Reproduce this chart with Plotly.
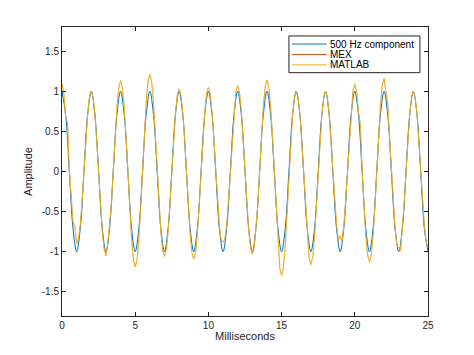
import plotly.graph_objects as go

# Blue 500 Hz component sampled every 0.25 ms (0 .. 25 ms)
comp_t = [i * 0.25 for i in range(101)]
comp_v = [
    1.0, 0.707, 0.0, -0.707, -1.0, -0.707, 0.0, 0.707,
    1.0, 0.707, 0.0, -0.707, -1.0, -0.707, 0.0, 0.707,
    1.0, 0.707, 0.0, -0.707, -1.0, -0.707, 0.0, 0.707,
    1.0, 0.707, 0.0, -0.707, -1.0, -0.707, 0.0, 0.707,
    1.0, 0.707, 0.0, -0.707, -1.0, -0.707, 0.0, 0.707,
    1.0, 0.707, 0.0, -0.707, -1.0, -0.707, 0.0, 0.707,
    1.0, 0.707, 0.0, -0.707, -1.0, -0.707, 0.0, 0.707,
    1.0, 0.707, 0.0, -0.707, -1.0, -0.707, 0.0, 0.707,
    1.0, 0.707, 0.0, -0.707, -1.0, -0.707, 0.0, 0.707,
    1.0, 0.707, 0.0, -0.707, -1.0, -0.707, 0.0, 0.707,
    1.0, 0.707, 0.0, -0.707, -1.0, -0.707, 0.0, 0.707,
    1.0, 0.707, 0.0, -0.707, -1.0, -0.707, 0.0, 0.707,
    1.0, 0.707, 0.0, -0.707, -1.0,
]

# Filtered output (MEX and MATLAB give identical results), every 0.125 ms
filt_t = [i * 0.125 for i in range(201)]
filt_v = [
    # 0 -> 1
    1.09, 0.98, 0.66, 0.62, 0.02, -0.36, -0.62, -0.68,
    # 1 -> 2
    -0.90, -0.84, -0.66, -0.36, 0.0, 0.38, 0.71, 0.92,
    # 2 -> 3
    1.00, 0.92, 0.70, 0.37, -0.01, -0.40, -0.74, -0.97,
    # 3 -> 4
    -1.05, -0.90, -0.66, -0.40, 0.0, 0.42, 0.79, 1.04,
    # 4 -> 5
    1.13, 1.04, 0.80, 0.43, 0.0, -0.45, -0.84, -1.10,
    # 5 -> 6
    -1.19, -1.10, -0.84, -0.45, 0.0, 0.46, 0.86, 1.12,
    # 6 -> 7
    1.21, 1.12, 0.86, 0.46, 0.0, -0.41, -0.75, -0.98,
    # 7 -> 8
    -1.06, -0.98, -0.75, -0.40, 0.0, 0.39, 0.73, 0.95,
    # 8 -> 9
    1.03, 0.95, 0.73, 0.40, 0.0, -0.42, -0.77, -1.01,
    # 9 -> 10
    -1.09, -1.01, -0.77, -0.41, 0.0, 0.40, 0.74, 0.97,
    # 10 -> 11
    1.05, 0.97, 0.74, 0.40, 0.0, -0.37, -0.68, -0.86,
    # 11 -> 12
    -0.88, -0.84, -0.66, -0.36, 0.0, 0.41, 0.76, 0.99,
    # 12 -> 13
    1.07, 0.99, 0.76, 0.40, 0.0, -0.39, -0.73, -0.95,
    # 13 -> 14
    -1.03, -0.95, -0.73, -0.42, 0.0, 0.44, 0.81, 1.05,
    # 14 -> 15
    1.14, 1.05, 0.81, 0.44, 0.0, -0.50, -0.92, -1.20,
    # 15 -> 16
    -1.30, -1.20, -0.92, -0.50, 0.0, 0.38, 0.71, 0.92,
    # 16 -> 17
    1.00, 0.92, 0.71, 0.38, 0.0, -0.44, -0.82, -1.07,
    # 17 -> 18
    -1.16, -1.07, -0.82, -0.44, 0.0, 0.38, 0.71, 0.92,
    # 18 -> 19
    1.00, 0.92, 0.71, 0.38, 0.0, -0.36, -0.66, -0.86,
    # 19 -> 20
    -0.80, -0.87, -0.68, -0.36, 0.0, 0.42, 0.78, 1.01,
    # 20 -> 21
    1.09, 1.00, 0.74, 0.60, 0.02, -0.43, -0.80, -1.04,
    # 21 -> 22
    -1.13, -1.04, -0.80, -0.43, 0.0, 0.45, 0.82, 1.07,
    # 22 -> 23
    1.16, 1.00, 0.84, 0.42, 0.0, -0.38, -0.70, -0.93,
    # 23 -> 24
    -0.95, -0.99, -0.72, -0.38, 0.0, 0.38, 0.71, 0.92,
    # 24 -> 25
    1.00, 0.92, 0.71, 0.37, 0.0, -0.36, -0.67, -0.88,
    -0.95,
]

x_ticks = [0, 5, 10, 15, 20, 25]
y_ticks = [-1.5, -1, -0.5, 0, 0.5, 1, 1.5]
y_tick_text = ["-1.5", "-1", "-0.5", "0", "0.5", "1", "1.5"]

series_names = ["500 Hz component", "MEX", "MATLAB"]
series_colors = ["#0072BD", "#D95319", "#EDB120"]

fig = go.Figure()
fig.add_trace(go.Scatter(x=comp_t, y=comp_v, mode="lines", name=series_names[0], showlegend=False,
                         line=dict(color=series_colors[0], width=1.0, shape="spline", smoothing=1.0)))
fig.add_trace(go.Scatter(x=filt_t, y=filt_v, mode="lines", name=series_names[1], showlegend=False,
                         line=dict(color=series_colors[1], width=0.3)))
fig.add_trace(go.Scatter(x=filt_t, y=filt_v, mode="lines", name=series_names[2], showlegend=False,
                         line=dict(color=series_colors[2], width=1.0)))

axis_color = "#262626"
font_family = "Liberation Sans, Arial, sans-serif"

# Compact MATLAB-style legend (box, line samples, labels) in paper coordinates
leg_x0, leg_x1, leg_y0, leg_y1 = 0.620, 0.978, 0.842, 0.969
row_y = [0.941, 0.905, 0.869]
fig.add_shape(type="rect", xref="paper", yref="paper", x0=leg_x0, x1=leg_x1, y0=leg_y0, y1=leg_y1,
              line=dict(color=axis_color, width=1), fillcolor="white", layer="above")
for name, color, yy in zip(series_names, series_colors, row_y):
    fig.add_shape(type="line", xref="paper", yref="paper", x0=0.628, x1=0.723, y0=yy, y1=yy,
                  line=dict(color=color, width=1.0), layer="above")
    fig.add_annotation(xref="paper", yref="paper", x=0.726, y=yy, text=name, showarrow=False,
                       xanchor="left", yanchor="middle", font=dict(size=10, color="black", family=font_family))

# the page body has an 8px margin, so the figure is sized/placed to compensate
fig.update_layout(
    width=466, height=347,
    margin=dict(l=54, r=46, t=19, b=39, autoexpand=False),
    paper_bgcolor="white", plot_bgcolor="white",
    font=dict(family=font_family, size=10, color=axis_color),
    showlegend=False,
)
fig.update_xaxes(range=[0, 25], tickvals=x_ticks, ticks="inside", ticklen=4,
                 tickcolor=axis_color, showline=True, linecolor=axis_color, linewidth=1,
                 mirror="ticks", showgrid=False, zeroline=False, automargin=False,
                 tickfont=dict(size=10, color=axis_color),
                 title=dict(text="Milliseconds", font=dict(size=11, color=axis_color), standoff=2))
fig.update_yaxes(range=[-1.8, 1.8], tickvals=y_ticks, ticktext=y_tick_text, ticks="inside", ticklen=4,
                 tickcolor=axis_color, showline=True, linecolor=axis_color, linewidth=1,
                 mirror="ticks", showgrid=False, zeroline=False, automargin=False,
                 tickfont=dict(size=10, color=axis_color),
                 title=dict(text="Amplitude", font=dict(size=11, color=axis_color), standoff=6))

fig.write_html("out.html")
